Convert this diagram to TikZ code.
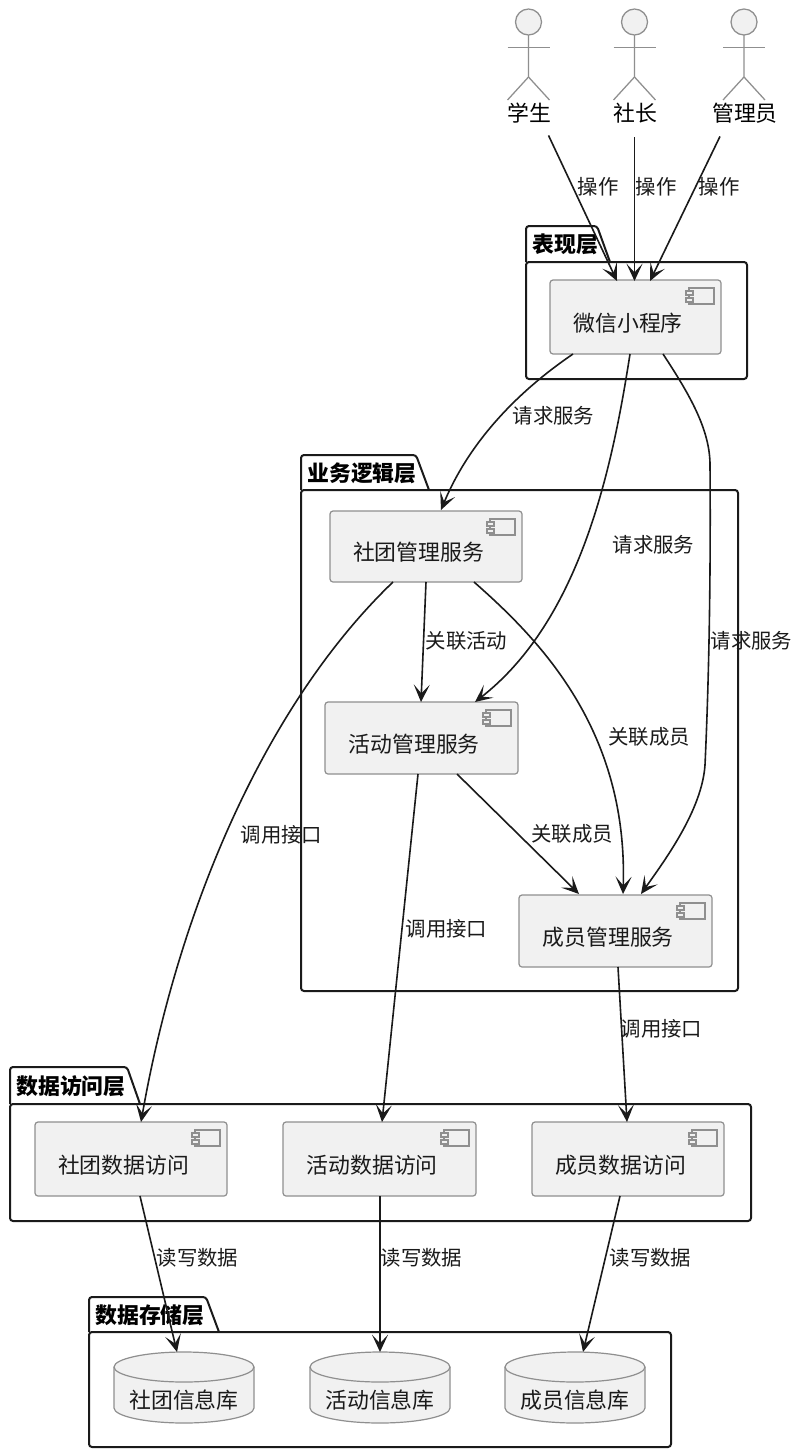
\documentclass[tikz,border=0pt]{standalone}
\usepackage{fontspec}
\setmainfont{Noto Sans CJK SC}
\usetikzlibrary{arrows.meta,calc}
\definecolor{boxfill}{HTML}{F1F1F1}
\definecolor{boxline}{HTML}{8F8F8F}
\definecolor{ink}{HTML}{1A1A1A}
\tikzset{
  pkgbox/.style={draw=ink,line width=1.5pt,rounded corners=2.25pt,inner sep=0pt,outer sep=0pt,anchor=north west},
  pkgtab/.style={draw=ink,line width=1.5pt,rounded corners=2.25pt},
  pkgtitle/.style={anchor=west,inner sep=0pt,font=\fontsize{16.4}{16}\selectfont\bfseries,text=black},
  compbox/.style={draw=boxline,fill=boxfill,line width=.9pt,rounded corners=2.25pt,inner sep=0pt,outer sep=0pt,anchor=north west,font=\fontsize{16.4}{16}\selectfont,text=ink},
  dbtext/.style={inner sep=0pt,outer sep=0pt,anchor=north west,font=\fontsize{16.4}{16}\selectfont,text=ink},
  dbline/.style={draw=boxline,fill=boxfill,line width=.9pt},
  iconline/.style={draw=boxline,fill=boxfill,line width=.8pt},
  actorline/.style={draw=boxline,line width=.95pt},
  actorname/.style={inner sep=0pt,font=\fontsize{16.4}{16}\selectfont,text=black},
  conn/.style={draw=ink,line width=1.2pt,-{Stealth[length=13pt,width=12pt,inset=6.5pt]}},
  edgelabel/.style={inner sep=0pt,font=\fontsize{15.3}{15}\selectfont,text=ink},
}
% package: name, x, tabtop, bodytop, right, bottom, tabright, title
\newcommand{\pkgdraw}[8]{%
  \path[pkgtab] (#2,#4) -- (#2,#3) -- (#7,#3) -- ({#7+13},#4);
  \node[pkgbox,minimum width={(#5-#2)*0.75pt},minimum height={(#6-#4)*0.75pt}] (#1) at (#2,#4) {};
  \node[pkgtitle] (#1t) at ({#2+6},{(#3+#4)/2+.5}) {#8};
}
% component: name, x, y, w, h, text
\newcommand{\compdraw}[6]{%
  \node[compbox,minimum width={#4*0.75pt},minimum height={#5*0.75pt}] (#1) at (#2,#3) {\raisebox{-10.8pt}[0pt][0pt]{#6}\rule{11pt}{0pt}};
  \path[iconline] ($(#1.north east)+(-32,8)$) rectangle ($(#1.north east)+(-7,24)$);
  \path[iconline] ($(#1.north east)+(-35,11)$) rectangle ($(#1.north east)+(-28,15)$);
  \path[iconline] ($(#1.north east)+(-35,18)$) rectangle ($(#1.north east)+(-28,22)$);
}
% database: name, x, y, text
\newcommand{\dbdraw}[4]{%
  \begin{scope}[shift={(#2,#3)}]
    \path[dbline] (0,15) .. controls (0,7) and (31,0) .. (70,0) .. controls (109,0) and (140,7) .. (140,15)
      -- (140,56) .. controls (140,64) and (109,71) .. (70,71) .. controls (31,71) and (0,64) .. (0,56) -- cycle;
    \draw[dbline,fill=none] (0,15) .. controls (0,23) and (31,30) .. (70,30) .. controls (109,30) and (140,23) .. (140,15);
  \end{scope}
  \node[dbtext,minimum width=105pt,minimum height=53.25pt] (#1) at (#2,#3) {\raisebox{-15.5pt}[0pt][0pt]{#4}};
}
% actor: name, x, text
\newcommand{\actordraw}[3]{%
  \node[circle,draw=boxline,fill=boxfill,line width=.95pt,minimum size=19.5pt,inner sep=0pt,outer sep=0pt] (#1h) at (#2,22) {};
  \draw[actorline] (#1h.south) -- (#2,77) -- ({#2-21},100);
  \draw[actorline] (#2,77) -- ({#2+21},100);
  \draw[actorline] ({#2-21},47.5) -- ({#2+21},47.5);
  \node[actorname] (#1) at ({#2+1},113) {#3};
}
\begin{document}
\begin{tikzpicture}[x=0.75pt,y=-0.75pt]
\useasboundingbox (0,0) rectangle (803,1456);
\fill[white] (0,0) rectangle (803,1456);

\actordraw{xs}{528.5}{学生}
\actordraw{sz}{634.5}{社长}
\actordraw{gl}{744}{管理员}

\pkgdraw{pa}{526}{226}{262}{747}{379}{597}{表现层}
\pkgdraw{pb}{301}{455}{490}{738}{991}{416}{业务逻辑层}
\pkgdraw{pc}{10}{1067}{1104}{751}{1221}{127}{数据访问层}
\pkgdraw{pd}{89}{1297}{1332}{671}{1447}{206}{数据存储层}

\compdraw{wx}{550}{280}{171}{74}{微信小程序}
\compdraw{st}{330}{511}{192}{71}{社团管理服务}
\compdraw{hd}{325}{702}{193}{72}{活动管理服务}
\compdraw{cy}{519}{895}{193}{72}{成员管理服务}
\compdraw{dst}{35}{1122}{192}{74}{社团数据访问}
\compdraw{dhd}{283}{1122}{193}{74}{活动数据访问}
\compdraw{dcy}{532}{1122}{192}{74}{成员数据访问}

\dbdraw{kst}{114}{1352}{社团信息库}
\dbdraw{khd}{310}{1352}{活动信息库}
\dbdraw{kcy}{505}{1352}{成员信息库}

\draw[conn] ($(xs.south)+(19,12)$) -- ($(wx.north west)+(67,1)$);
\draw[conn] ($(sz.south)+(-1,14)$) -- ($(wx.north west)+(84.5,1)$);
\draw[conn] ($(gl.south)+(-25,13)$) -- ($(wx.north west)+(100,1)$);

\draw[conn] ($(wx.south west)+(23,0)$) .. controls (520,390) and (470,440) .. ($(st.north west)+(111,-1)$);
\draw[conn] ($(wx.south west)+(80,0)$) .. controls (612,470) and (580,620) .. ($(hd.north west)+(150,0)$);
\draw[conn] ($(wx.south west)+(113,0)$) .. controls (690,395) and (710,430) .. (710,465) .. controls (711,600) and (708,700) .. (705,765) .. controls (702,810) and (665,860) .. ($(cy.north west)+(122,-1)$);

\draw[conn] ($(st.south west)+(96,0)$) -- ($(hd.north west)+(96,0)$);
\draw[conn] ($(st.south west)+(144,0)$) .. controls (540,640) and (628,730) .. ($(cy.north west)+(104,-1)$);
\draw[conn] ($(st.south west)+(63,0)$) .. controls (270,700) and (180,900) .. ($(dst.north west)+(106,0)$);
\draw[conn] ($(hd.south west)+(93,0)$) -- ($(dhd.north west)+(99,0)$);
\draw[conn] ($(hd.south west)+(132,0)$) -- ($(cy.north west)+(60,-1)$);
\draw[conn] ($(cy.south west)+(99,0)$) -- ($(dcy.north west)+(95,0)$);

\draw[conn] ($(dst.south west)+(105,0)$) -- ($(kst.north west)+(63,0)$);
\draw[conn] ($(dhd.south west)+(97,0)$) -- ($(khd.north west)+(70,0)$);
\draw[conn] ($(dcy.south west)+(88,0)$) -- ($(kcy.north west)+(78,0)$);

\node[edgelabel] (l1) at (598,187) {操作};
\node[edgelabel] (l2) at (656,187) {操作};
\node[edgelabel] (l3) at (719,187) {操作};
\node[edgelabel] (l4) at (553.5,416) {请求服务};
\node[edgelabel] (l5) at (653.5,545) {请求服务};
\node[edgelabel] (l6) at (751.5,641) {请求服务};
\node[edgelabel] (l7) at (466.5,641) {关联活动};
\node[edgelabel] (l8) at (649,737) {关联成员};
\node[edgelabel] (l9) at (572,834) {关联成员};
\node[edgelabel] (l10) at (281.5,835) {调用接口};
\node[edgelabel] (l11) at (446.5,929) {调用接口};
\node[edgelabel] (l12) at (661.5,1029) {调用接口};
\node[edgelabel] (l13) at (197.5,1258) {读写数据};
\node[edgelabel] (l14) at (421.5,1258) {读写数据};
\node[edgelabel] (l15) at (650.5,1258) {读写数据};
\end{tikzpicture}
\end{document}
